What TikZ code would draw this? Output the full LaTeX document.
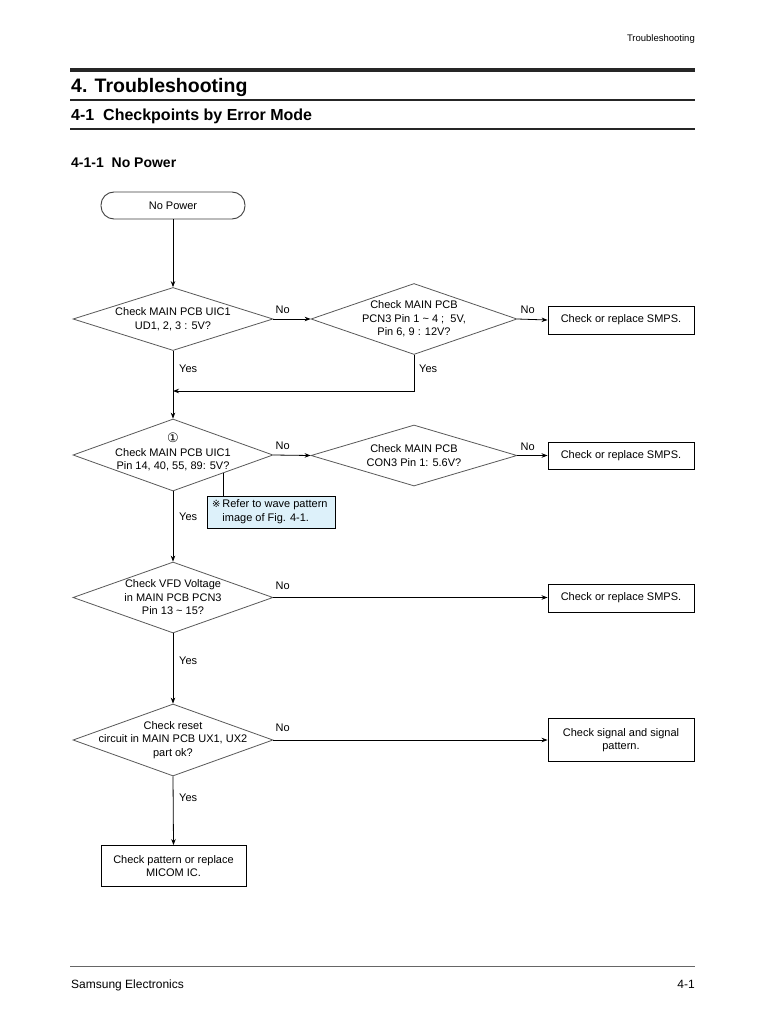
\documentclass[tikz,border=0pt]{standalone}
\usepackage{fontspec}
\setmainfont{Liberation Sans}
\newfontfamily\dejavu{DejaVu Sans}
\usetikzlibrary{shapes.geometric,arrows.meta}
\definecolor{notefill}{HTML}{DDF1FA}
\begin{document}
\begin{tikzpicture}[x=1pt,y=-1pt,
  dia/.style={diamond, draw=black!65, line width=0.8pt, inner sep=0pt},
  box/.style={rectangle, draw=black, line width=0.9pt, inner sep=0pt},
  txt/.style={font=\fontsize{11}{13.5}\selectfont, align=center, inner sep=0pt},
  lbl/.style={font=\fontsize{11}{13}\selectfont, inner sep=0pt, anchor=west},
  arr/.style={draw=black, line width=0.8pt, -{Stealth[length=6pt,width=4.5pt]}},
  ln/.style={draw=black, line width=0.8pt},
  rule/.style={draw=black!85},
]
\useasboundingbox (0,0) rectangle (768,1024);
\fill[white] (0,0) rectangle (768,1024);

% header
\node[font=\fontsize{9.5}{11}\selectfont, anchor=base east, inner sep=0pt] (hdr) at (695,42) {Troubleshooting};
\draw[rule, line width=3.5pt] (70,70) -- (695,70);
\node[font=\bfseries\fontsize{19.5}{22}\selectfont, anchor=base west, inner sep=0pt] (t1) at (71,93) {4. Troubleshooting};
\draw[rule, line width=2.5pt] (70,100) -- (695,100);
\node[font=\bfseries\fontsize{16}{19}\selectfont, anchor=base west, inner sep=0pt] (t2) at (71,121) {4-1\ \ Checkpoints by Error Mode};
\draw[rule, line width=2.5pt] (70,129) -- (695,129);
\node[font=\bfseries\fontsize{14}{17}\selectfont, anchor=base west, inner sep=0pt] (t3) at (71,168) {4-1-1\ \ No Power};

% flowchart shapes
\node[box, draw=black!75, rounded corners=13pt, minimum width=144pt, minimum height=27pt] (start) at (173,205.5) {};
\node[txt] (tstart) at (start) {No Power};

\node[dia, minimum width=200pt, minimum height=63pt] (d1) at (173,319) {};
\node[txt] (td1) at (d1) {Check MAIN PCB UIC1\\UD1, 2, 3 : 5V?};

\node[dia, minimum width=206pt, minimum height=71pt] (d2) at (414,319) {};
\node[txt] (td2) at (d2) {Check MAIN PCB\\PCN3 Pin 1 \textasciitilde{} 4 ;\ \ 5V,\\Pin 6, 9 : 12V?};

\node[box, minimum width=146pt, minimum height=28pt] (b1) at (621,320) {};
\node[txt] (tb1) at (b1) {Check or replace SMPS.};

\node[dia, minimum width=200pt, minimum height=72pt] (d3) at (173,455) {};
\node[txt] (td3) at (173,452) {{\dejavu\fontsize{13}{13.5}\selectfont ①}\\Check MAIN PCB UIC1\\Pin 14, 40, 55, 89: 5V?};

\node[dia, minimum width=206pt, minimum height=61pt] (d4) at (414,455.5) {};
\node[txt] (td4) at (d4) {Check MAIN PCB\\CON3 Pin 1: 5.6V?};

\node[box, minimum width=146pt, minimum height=27pt] (b2) at (621,455.5) {};
\node[txt] (tb2) at (b2) {Check or replace SMPS.};

\node[box, fill=notefill, minimum width=128pt, minimum height=32pt] (note) at (271,512) {};
\node[font=\fontsize{11}{14}\selectfont, align=left, inner sep=0pt, anchor=west] (tnote) at (212,512)
  {{\dejavu\fontsize{10}{14}\selectfont ※}\,Refer to wave pattern\\\hphantom{{\dejavu\fontsize{10}{14}\selectfont ※}\,}image of Fig. 4-1.};

\node[dia, minimum width=200pt, minimum height=71pt] (d5) at (173,597.5) {};
\node[txt] (td5) at (d5) {Check VFD Voltage\\in MAIN PCB PCN3\\Pin 13 \textasciitilde{} 15?};

\node[box, minimum width=146pt, minimum height=28pt] (b3) at (621,598) {};
\node[txt] (tb3) at (b3) {Check or replace SMPS.};

\node[dia, minimum width=200pt, minimum height=72pt] (d6) at (173,740) {};
\node[txt] (td6) at (d6) {Check reset\\circuit in MAIN PCB UX1, UX2\\part ok?};

\node[box, minimum width=146pt, minimum height=43pt] (b4) at (621,740) {};
\node[txt] (tb4) at (b4) {Check signal and signal\\pattern.};

\node[box, minimum width=145pt, minimum height=41pt] (b5) at (173.5,866) {};
\node[txt] (tb5) at (b5) {Check pattern or replace\\MICOM IC.};

% connectors
\coordinate (my) at (0,391);
\coordinate (m) at (d1.south |- my);
\draw[arr] (start.south) -- (d1.north);
\draw[arr] (d1.east) -- (d2.west);
\draw[arr] (d2.east) -- (b1.west);
\draw[arr] (d1.south) -- (d3.north);
\draw[arr] (d2.south) |- (m);
\draw[arr] (d3.east) -- (d4.west);
\draw[arr] (d4.east) -- (b2.west);
\draw[ln] (d3.south east) -- (d3.south east |- note.north);
\draw[arr] (d3.south) -- (d5.north);
\draw[arr] (d5.east) -- (d5.east -| b3.west);
\draw[arr] (d5.south) -- (d6.north);
\draw[arr] (d6.east) -- (d6.east -| b4.west);
\draw[arr] (d6.south) -- (b5.north);

% labels
\node[lbl] (n1) at ([shift={(2,-9)}]d1.east) {No};
\node[lbl] (n2) at ([shift={(3,-9)}]d2.east) {No};
\node[lbl] (n3) at ([shift={(2,-9)}]d3.east) {No};
\node[lbl] (n4) at ([shift={(3,-9)}]d4.east) {No};
\node[lbl] (n5) at ([shift={(2,-12)}]d5.east) {No};
\node[lbl] (n6) at ([shift={(2,-12)}]d6.east) {No};
\node[lbl] (y1) at ([shift={(6,18)}]d1.south) {Yes};
\node[lbl] (y2) at ([shift={(5,13.5)}]d2.south) {Yes};
\node[lbl] (y3) at ([shift={(6,25)}]d3.south) {Yes};
\node[lbl] (y5) at ([shift={(6,27)}]d5.south) {Yes};
\node[lbl] (y6) at ([shift={(6,21)}]d6.south) {Yes};

% footer
\draw[draw=black!60, line width=1pt] (70,966) -- (695,966);
\node[font=\fontsize{12}{14}\selectfont, anchor=base west, inner sep=0pt] (f1) at (71,988) {Samsung Electronics};
\node[font=\fontsize{12}{14}\selectfont, anchor=base east, inner sep=0pt] (f2) at (695,988) {4-1};
\end{tikzpicture}
\end{document}
